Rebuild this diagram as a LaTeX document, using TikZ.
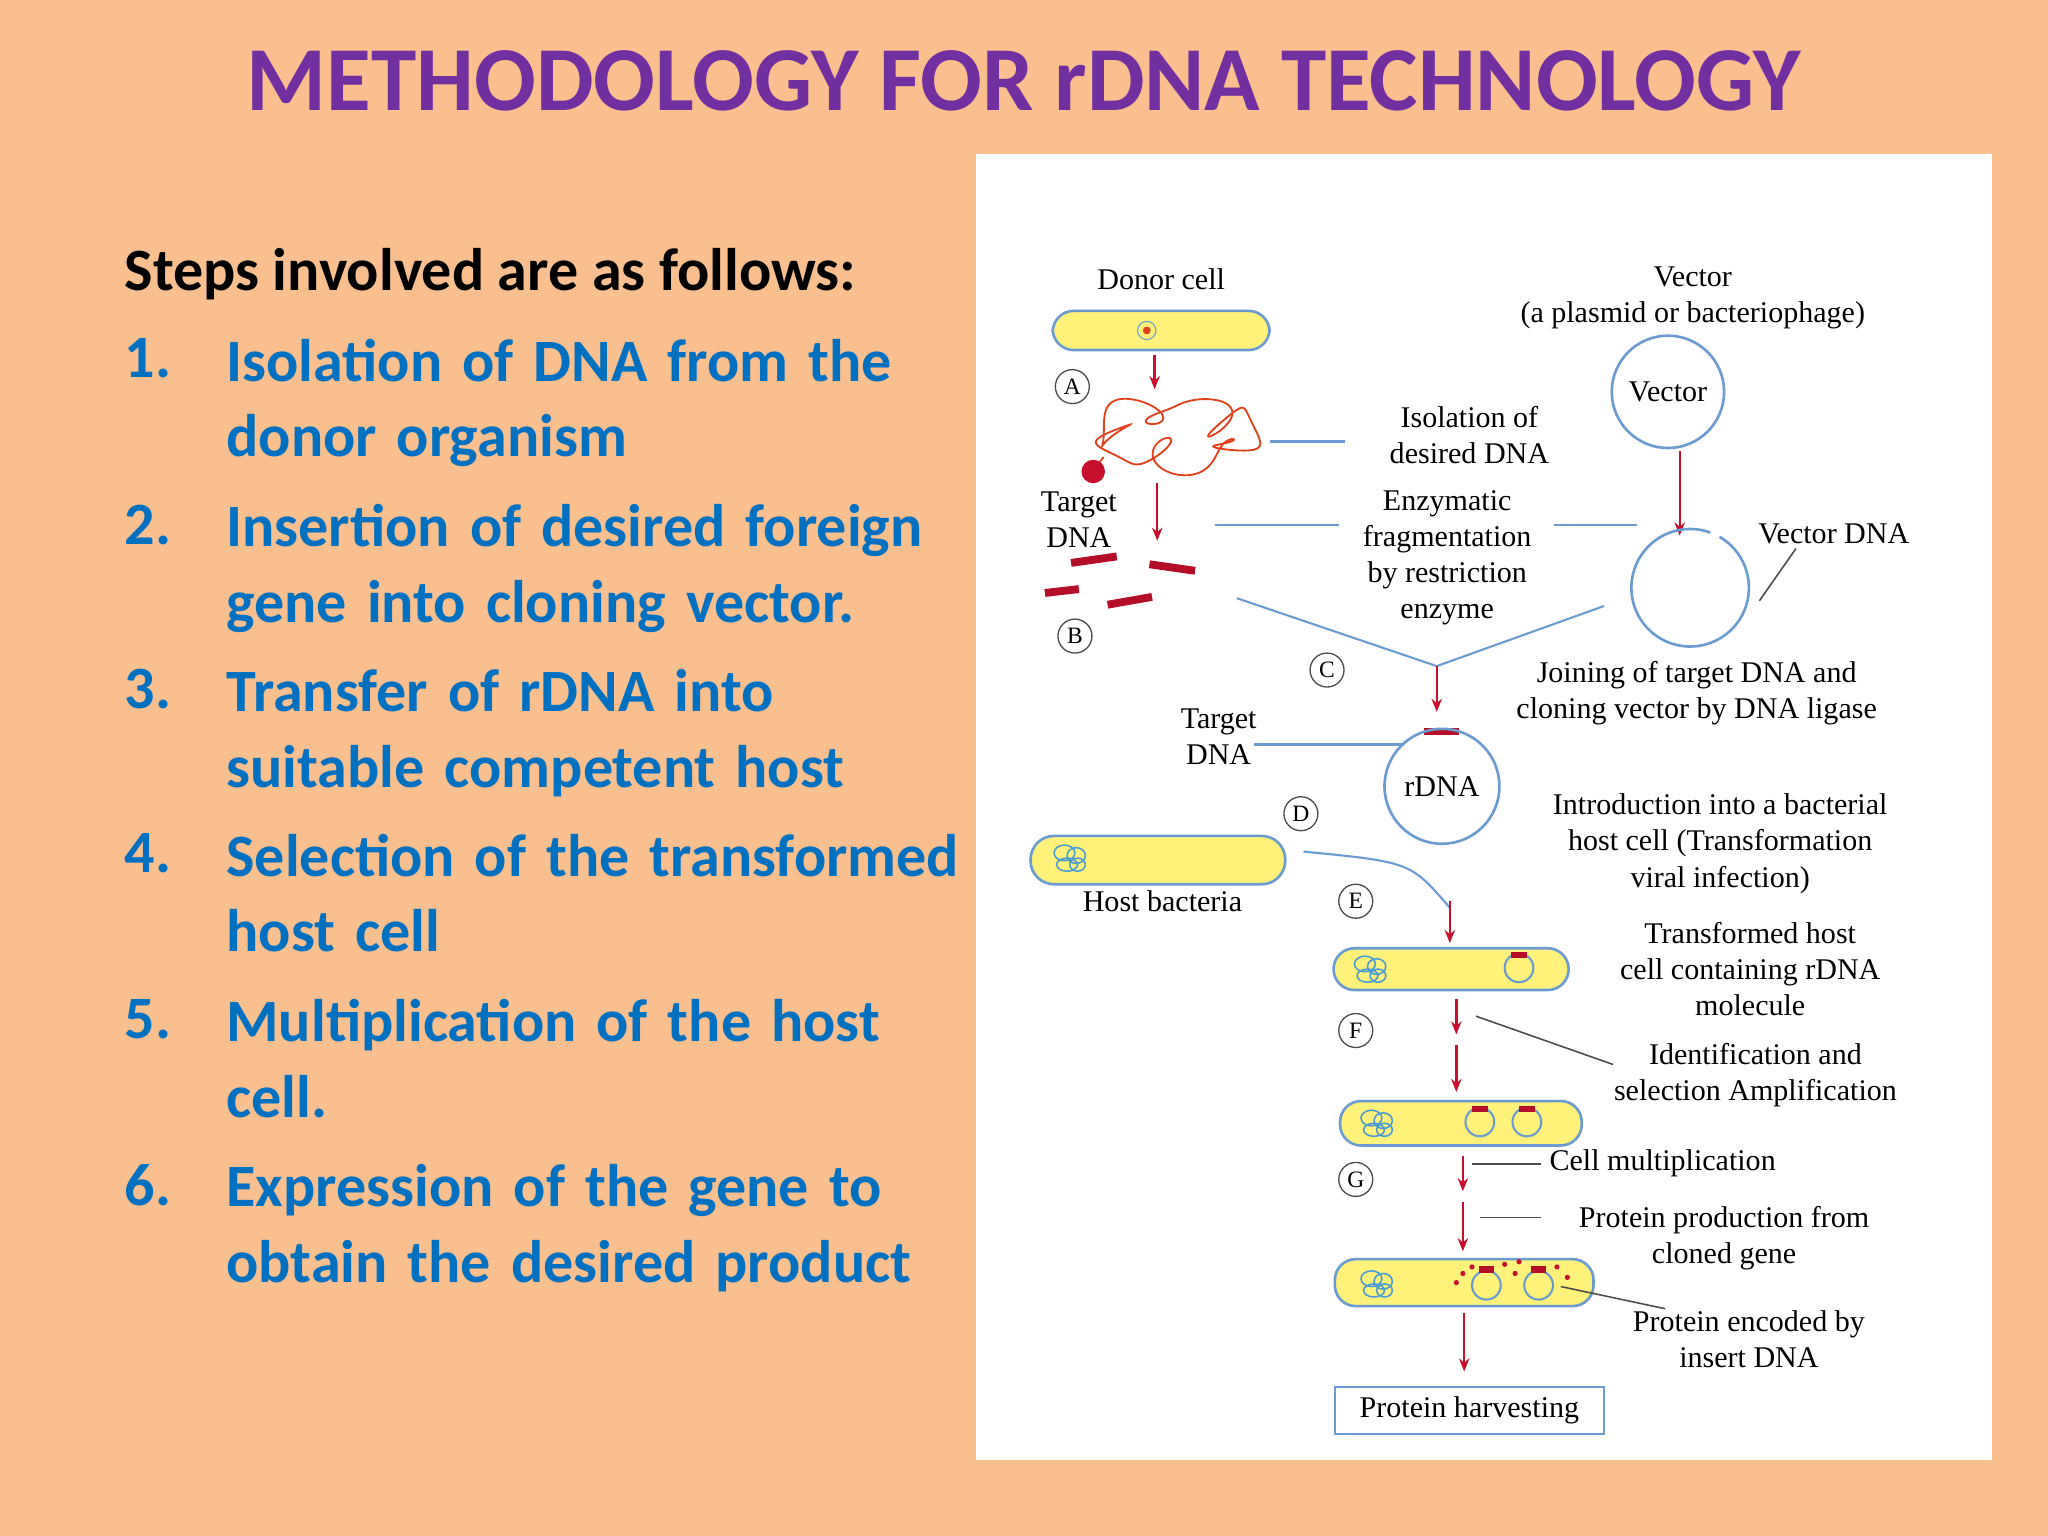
\documentclass[tikz,border=0pt]{standalone}
\usepackage{fontspec}
\setmainfont{Carlito}
\newfontfamily\lab{Liberation Serif}
\usetikzlibrary{arrows.meta}
\definecolor{bg}{HTML}{F9BF8F}
\definecolor{ttl}{HTML}{7030A0}
\definecolor{stp}{HTML}{0070C0}
\definecolor{ln}{HTML}{6A9BD1}
\definecolor{ar}{HTML}{C8102E}
\definecolor{cellf}{HTML}{FFF27A}
\definecolor{dna}{HTML}{E0401A}
\begin{document}
\begin{tikzpicture}[x=0.5pt,y=-0.5pt,
 lbl/.style={font=\lab\fontsize{11.5}{13.8}\selectfont,align=center,inner sep=0pt},
 cl/.style={draw=black!70,circle,minimum size=13pt,inner sep=0pt,font=\lab\fontsize{9}{9}\selectfont,line width=0.5pt},
 bl/.style={draw=ln,line width=0.8pt},
 ra/.style={draw=ar,line width=0.9pt,-{Stealth[length=5pt,width=4pt]}},
 cell/.style={draw=ln,fill=cellf,rounded corners=8pt,line width=1pt},
 bar/.style={draw=ar!90!black,line width=3pt},
 item/.style={anchor=north west,inner sep=0pt,text width=300pt,align=left,font=\bfseries\fontsize{23}{29}\selectfont,text=stp}]
\fill[bg] (0,0) rectangle (1568,1176);
\useasboundingbox (0,0) rectangle (1568,1176);
\node[font=\bfseries\fontsize{35}{40}\selectfont,text=ttl] (title) at (784,62) {METHODOLOGY FOR rDNA TECHNOLOGY};
\node[anchor=west,inner sep=0pt,font=\bfseries\fontsize{23}{29}\selectfont] (steps) at (95,210) {Steps involved are as follows:};
\foreach \n/\y/\t in {1/259/{Isolation of DNA from the\\donor organism},
 2/386/{Insertion of desired foreign\\gene into cloning vector.},
 3/512/{Transfer of rDNA into\\suitable competent host},
 4/638/{Selection of the transformed\\host cell},
 5/765/{Multiplication of the host\\cell.},
 6/891/{Expression of the gene to\\obtain the desired product}}{
 \node[anchor=north west,inner sep=0pt,font=\bfseries\fontsize{23}{29}\selectfont,text=stp] (n\n) at (95,\y) {\n.};
 \node[item] (s\n) at (173,\y) {\t};
}
\fill[white] (747,118) rectangle (1525,1118);
% donor
\node[lbl] (donorl) at (889,214) {Donor cell};
\draw[cell] (806,238) rectangle (972,268);
\node[circle,draw=ln,fill=cellf,minimum size=7pt,inner sep=0pt] (nuc) at (878,253) {};
\fill[dna] (878,253) circle (1.5pt);
\draw[ra] (884,272) -- (884,298);
\node[cl] (A) at (821,296) {A};
\draw[dna,line width=0.7pt,smooth,samples=240,domain=0:360,variable=\t] plot ({900+52*cos(\t)+13*cos(6*\t+20)+5*sin(11*\t)},{332+18*sin(\t)+11*sin(6*\t)+4*cos(9*\t)});
\draw[dna,line width=0.7pt] (845,350) .. controls (840,356) .. (837,361);
\fill[ar] (837,361) circle (4.5pt);
\draw[bl] (972,338) -- (1030,338);
\node[lbl] (iso) at (1125,333) {Isolation of\\desired DNA};
\node[lbl] (tdna1) at (826,398) {Target\\DNA};
\draw[ra] (886,370) -- (886,414);
\draw[bar] (820,431)--(855,426); \draw[bar] (880,432)--(915,437);
\draw[bar] (800,454)--(826,451); \draw[bar] (848,463)--(882,457);
\node[cl] (B) at (823,487) {B};
\draw[bl] (930,402) -- (1025,402);
\node[lbl] (enz) at (1108,427) {Enzymatic\\fragmentation\\by restriction\\enzyme};
\draw[bl] (1190,402) -- (1253,402);
% vector
\node[lbl] (vecl) at (1296,228) {Vector\\(a plasmid or bacteriophage)};
\node[circle,draw=ln,line width=1pt,minimum size=43pt,lbl] (vec) at (1277,300) {Vector};
\draw[ra] (1286,345) -- (1286,410);
\draw[ln,line width=1pt] (1294,450) ++(60:22.5pt) arc (60:-290:22.5pt);
\node[lbl] (vdna) at (1404,409) {Vector DNA};
\draw[black!70,line width=0.6pt] (1375,420) -- (1347,460);
\draw[bl] (947,458) -- (1100,510) -- (1228,464);
\draw[ra] (1100,510) -- (1100,545);
\node[cl] (C) at (1016,513) {C};
\node[lbl] (join) at (1299,531) {Joining of target DNA and\\cloning vector by DNA ligase};
\draw[bar] (1090,560)--(1117,560);
\node[circle,draw=ln,line width=1pt,minimum size=44pt,lbl] (rdna) at (1104,602) {rDNA};
\node[lbl] (tdna2) at (933,564) {Target\\DNA};
\draw[bl] (960,570) -- (1075,570);
\node[cl] (D) at (996,623) {D};
\node[lbl] (intro) at (1317,646) {Introduction into a bacterial\\host cell (Transformation\\viral infection)};
% host
\draw[cell,rounded corners=9pt] (789,640) rectangle (984,677);
\node[lbl] (host) at (890,690) {Host bacteria};
\draw[bl] (998,652) .. controls (1080,660) .. (1110,695);
\draw[ra] (1110,690) -- (1110,722);
\node[cl] (E) at (1038,690) {E};
\draw[cell] (1021,726) rectangle (1201,758);
\draw[ln,line width=0.8pt] (1163,741) circle (5.5pt);
\draw[bar,line width=2.5pt] (1157,731)--(1169,731);
\node[lbl] (trans) at (1340,742) {Transformed host\\cell containing rDNA\\molecule};
\draw[ra] (1115,765) -- (1115,792);
\draw[ra] (1115,800) -- (1115,836);
\node[cl] (F) at (1038,789) {F};
\draw[black!70,line width=0.6pt] (1130,778) -- (1235,815);
\node[lbl] (ident) at (1344,823) {Identification and\\selection Amplification};
\draw[cell] (1026,843) rectangle (1211,877);
\foreach \x in {1133,1169}{\draw[ln,line width=0.8pt] (\x,859) circle (5.5pt); \draw[bar,line width=2.5pt] (\x-6,849)--(\x+6,849);}
\draw[ra] (1120,885) -- (1120,912);
\draw[ra] (1120,920) -- (1120,958);
\node[cl] (G) at (1038,903) {G};
\draw[black!70,line width=0.6pt] (1127,891) -- (1180,891);
\node[lbl,anchor=west] (mult) at (1186,891) {Cell multiplication};
\draw[black!70,line width=0.6pt] (1133,932) -- (1180,932);
\node[lbl] (prod) at (1320,948) {Protein production from\\cloned gene};
\draw[cell] (1022,964) rectangle (1220,1000);
\foreach \x in {1138,1178}{\draw[ln,line width=0.8pt] (\x,984) circle (5.5pt); \draw[bar,line width=2.5pt] (\x-6,972)--(\x+6,972);}
\foreach \x/\y in {1120/975,1127/970,1152/968,1160/975,1192/970,1200/978,1115/982,1163/966}{\fill[ar] (\x,\y) circle (1pt);}
\draw[black!70,line width=0.6pt] (1195,985) -- (1275,1002);
\node[lbl] (enc) at (1339,1025) {Protein encoded by\\insert DNA};
\draw[ra] (1121,1005) -- (1121,1050);
\node[lbl,draw=ln,line width=1pt,minimum width=103pt,minimum height=18pt] (harv) at (1125,1080) {Protein harvesting};
% nucleoids
\foreach \x/\y in {820/657,1050/742,1055/860,1055/983}{
 \draw[stp!70,line width=0.6pt] (\x-5,\y-4) circle (4pt and 3pt) (\x+4,\y-2) circle (3.5pt and 3pt) (\x-3,\y+5) circle (4pt and 2.5pt) (\x+5,\y+5) circle (3pt and 2.5pt);}
\end{tikzpicture}
\end{document}
